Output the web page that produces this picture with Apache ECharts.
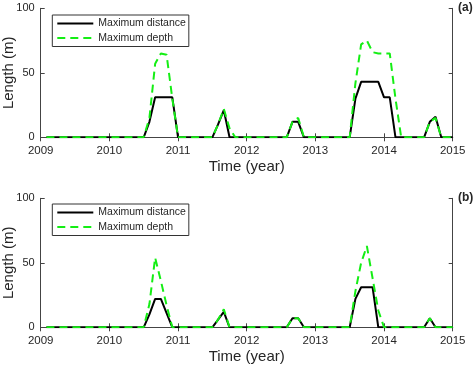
<!DOCTYPE html>
<html>
<head>
<meta charset="utf-8">
<script src="https://cdn.jsdelivr.net/npm/echarts@6/dist/echarts.min.js"></script>
<style>html,body{margin:0;padding:0;background:#fff;}#c{width:474px;height:366px;}</style>
</head>
<body>
<div id="c"></div>
<script>
// Monthly samples, k = 1..72 (Feb 2009 .. Jan 2015), x = 2009 + k/12
const monthIndex = [];
for (let k = 1; k <= 72; k++) monthIndex.push(k);
const yearTicks = [2009, 2010, 2011, 2012, 2013, 2014, 2015];
const seriesNames = ['Maximum distance', 'Maximum depth'];
const panelLabels = ['(a)', '(b)'];

// Panel (a)
const distA = [
  0,0,0,0,0,0,0,0,0,0,0,0,            // k1-12
  0,0,0,0,0,0,12,31,31,31,31,0,       // k13-24
  0,0,0,0,0,0,10,21,0,0,0,0,          // k25-36
  0,0,0,0,0,0,0,12,12,0,0,0,          // k37-48
  0,0,0,0,0,0,30,43,43,43,43,31,      // k49-60
  31,0,0,0,0,0,0,12,16,0,0,0          // k61-72
];
const depthA = [
  0,0,0,0,0,0,0,0,0,0,0,0,
  0,0,0,0,0,0,15,57,65,64,30,0,
  0,0,0,0,0,0,10,22,7,0,0,0,
  0,0,0,0,0,0,0,12,15,0,0,0,
  0,0,0,0,0,0,42,72,75,66,65,65,
  65,30,0,0,0,0,0,12,15,0,0,0
];
// Panel (b)
const distB = [
  0,0,0,0,0,0,0,0,0,0,0,0,
  0,0,0,0,0,0,10,22,22,11,0,0,
  0,0,0,0,0,0,6,12,0,0,0,0,
  0,0,0,0,0,0,0,7,7,0,0,0,
  0,0,0,0,0,0,22,31,31,31,0,0,
  0,0,0,0,0,0,0,7,0,0,0,0
];
const depthB = [
  0,0,0,0,0,0,0,0,0,0,0,0,
  0,0,0,0,0,0,18,54,36,17,0,0,
  0,0,0,0,0,0,6,14,0,0,0,0,
  0,0,0,0,0,0,0,7,7,0,0,0,
  0,0,0,0,0,0,28,50,63,38,13,0,
  0,0,0,0,0,0,0,7,0,0,0,0
];

const FONT = 'Arial, "Liberation Sans", sans-serif';
const AXC = '#444';
const TXC = '#262626';
const GREEN = '#14ee14';

function pairs(vals) { return monthIndex.map((k, i) => [2009 + k / 12, vals[i]]); }

const grids = [
  { left: 40.7, right: 21.3, top: 8.3, height: 129, containLabel: false, outerBoundsMode: 'none' },
  { left: 40.7, right: 21.3, top: 198.3, height: 129, containLabel: false, outerBoundsMode: 'none' }
];

const xAxes = [], yAxes = [], series = [], legends = [];
const data = [[distA, depthA], [distB, depthB]];
const legendTops = [15, 204];

grids.forEach((g, gi) => {
  const baseX = {
    type: 'value', gridIndex: gi, min: yearTicks[0], max: yearTicks[yearTicks.length - 1], interval: 1,
    splitLine: { show: false },
    axisLine: { show: true, lineStyle: { color: AXC, width: 1 } },
    axisTick: { show: true, inside: true, length: 4, lineStyle: { color: AXC } }
  };
  xAxes.push(Object.assign({}, baseX, {
    position: 'bottom',
    axisLabel: { show: true, color: TXC, fontSize: 11.5, fontFamily: FONT, margin: 8, formatter: v => String(v) },
    name: 'Time (year)', nameLocation: 'middle', nameGap: 22, nameMoveOverlap: false,
    nameTextStyle: { color: TXC, fontSize: 15, fontFamily: FONT }
  }));
  xAxes.push(Object.assign({}, baseX, { position: 'top', axisLabel: { show: false } }));
  const baseY = {
    type: 'value', gridIndex: gi, min: 0, max: 100, interval: 50,
    splitLine: { show: false },
    axisLine: { show: true, lineStyle: { color: AXC, width: 1 } },
    axisTick: { show: true, inside: true, length: 4, lineStyle: { color: AXC } }
  };
  yAxes.push(Object.assign({}, baseY, {
    position: 'left',
    axisLabel: { show: true, color: TXC, fontSize: 11, fontFamily: FONT, margin: 6 },
    name: 'Length (m)', nameLocation: 'middle', nameGap: 24, nameRotate: 90, nameMoveOverlap: false,
    nameTextStyle: { color: TXC, fontSize: 15, fontFamily: FONT }
  }));
  yAxes.push(Object.assign({}, baseY, { position: 'right', axisLabel: { show: false } }));

  series.push({
    name: seriesNames[0], type: 'line', xAxisIndex: gi * 2, yAxisIndex: gi * 2,
    data: pairs(data[gi][0]), symbol: 'none', animation: false,
    lineStyle: { color: '#000', width: 2 }, itemStyle: { color: '#000' }
  });
  series.push({
    name: seriesNames[1], type: 'line', xAxisIndex: gi * 2, yAxisIndex: gi * 2,
    data: pairs(data[gi][1]), symbol: 'none', animation: false,
    lineStyle: { color: GREEN, width: 2, type: [8, 5] }, itemStyle: { color: GREEN }
  });

  legends.push({
    show: true, orient: 'vertical', left: 52.3, top: legendTops[gi],
    data: seriesNames, itemWidth: 36, itemHeight: 10, itemGap: 3.5,
    padding: [3, 3, 3, 4], borderColor: '#333', borderWidth: 1, backgroundColor: '#fff',
    selectedMode: false,
    itemStyle: { opacity: 0 },
    textStyle: { color: TXC, fontSize: 10.5, fontFamily: FONT }
  });
});

const chart = echarts.init(document.getElementById('c'), null, { renderer: 'canvas' });
chart.setOption({
  animation: false,
  grid: grids,
  xAxis: xAxes,
  yAxis: yAxes,
  series: series,
  legend: legends,
  graphic: panelLabels.map((t, i) => ({
    type: 'text', left: 458, top: 2 + i * 190,
    style: { text: t, fill: TXC, font: 'bold 12px ' + FONT }
  }))
});
</script>
</body>
</html>
